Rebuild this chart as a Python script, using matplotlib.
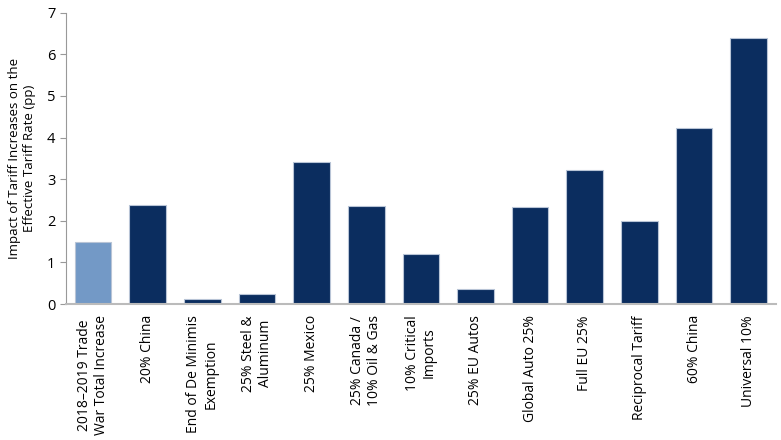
import matplotlib.pyplot as plt
import numpy as np

plt.rcParams['font.family'] = ['Open Sans', 'DejaVu Sans']

labels = ['2018\u20132019 Trade\nWar Total Increase', '20% China', 'End of De Minimis\nExemption',
          '25% Steel &\nAluminum', '25% Mexico', '25% Canada /\n10% Oil & Gas', '10% Critical\nImports',
          '25% EU Autos', 'Global Auto 25%', 'Full EU 25%', 'Reciprocal Tariff', '60% China',
          'Universal 10%']
values = [1.5, 2.39, 0.13, 0.23, 3.41, 2.35, 1.21, 0.36, 2.34, 3.22, 2.0, 4.23, 6.4]

colors = ['#7399c6'] + ['#0b2d5f'] * (len(values) - 1)

fig = plt.figure(figsize=(7.81, 4.40), dpi=100)
ax = fig.add_axes([0.0841, 0.309, 0.9095, 0.662])

x = np.arange(len(values))
ax.bar(x, values, width=0.67, color=colors, edgecolor='#b8c4d6', linewidth=0.8)

ax.set_xlim(-0.5, len(values) - 0.5)
ax.set_ylim(0, 7)
ax.set_yticks(range(0, 8))
ax.set_xticks(x)
ax.set_xticklabels(labels, rotation=90, ha='center', va='top', multialignment='center', fontsize=10)
ax.tick_params(axis='x', length=0, pad=8)
ax.tick_params(axis='y', labelsize=10.5, length=4, color='#999999', direction='out')

for s in ['top', 'right']:
    ax.spines[s].set_visible(False)
ax.spines['left'].set_color('#999999')
ax.spines['bottom'].set_color('#bbbbbb')
ax.spines['bottom'].set_linewidth(1.5)

ax.set_ylabel('Impact of Tariff Increases on the\nEffective Tariff Rate (pp)', fontsize=9.5, labelpad=8)

fig.savefig('out.png', dpi=100)
